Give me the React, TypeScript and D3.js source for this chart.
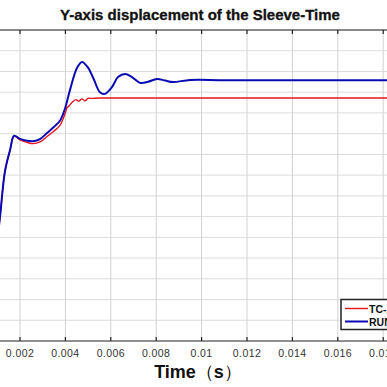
import React from "react";
import * as d3 from "d3";

const titleText = "Y-axis displacement of the Sleeve-Time";
const xLabel = "Time";
const xTicks = [0, 0.002, 0.004, 0.006, 0.008, 0.01, 0.012, 0.014, 0.016, 0.018, 0.02];
const xTickLabels = ["0", "0.002", "0.004", "0.006", "0.008", "0.01", "0.012", "0.014", "0.016", "0.018", "0.02"];
const yTicks = d3.range(0, 16, 1);

const seriesNames = ["TC-ADAMS", "RUNGE"];

const redT = [0.0009, 0.00112, 0.00134, 0.00156, 0.00174, 0.002, 0.00231, 0.00257, 0.00288, 0.00319, 0.0035, 0.00376, 0.00398, 0.00407, 0.00416, 0.00433, 0.00446, 0.00459, 0.00473, 0.00486, 0.00499, 0.00517, 0.00552, 0.0065, 0.008, 0.012, 0.016, 0.02];
const redY = [3.9, 6.0, 8.2, 9.2, 9.88, 9.7, 9.58, 9.52, 9.6, 9.86, 10.13, 10.4, 10.95, 11.25, 11.34, 11.55, 11.64, 11.57, 11.68, 11.58, 11.7, 11.7, 11.72, 11.72, 11.72, 11.72, 11.72, 11.72];

const blueT = [0.0009, 0.00112, 0.00134, 0.00156, 0.00174, 0.002, 0.00231, 0.00257, 0.00288, 0.00319, 0.0035, 0.00376, 0.00398, 0.0042, 0.00451, 0.00473, 0.00499, 0.00526, 0.00552, 0.00574, 0.00605, 0.00632, 0.00663, 0.00693, 0.00729, 0.00764, 0.00803, 0.0084, 0.00874, 0.00949, 0.011, 0.014, 0.017, 0.02];
const blueY = [3.9, 6.0, 8.2, 9.2, 9.9, 9.75, 9.66, 9.64, 9.74, 10.03, 10.33, 10.62, 11.2, 12.1, 13.17, 13.46, 13.2, 12.6, 12.0, 11.92, 12.25, 12.73, 12.88, 12.73, 12.45, 12.5, 12.64, 12.56, 12.49, 12.59, 12.58, 12.58, 12.58, 12.58];

const W = 387;
const H = 387;
const plotLeft = -25.4;
const plotRight = 428.6;
const plotTop = 30;
const plotBottom = 341;

export default function App() {
  const x = d3.scaleLinear().domain([0, 0.02]).range([plotLeft, plotRight]);
  const y = d3.scaleLinear().domain([0, 15]).range([plotBottom, plotTop]);
  const line = d3
    .line<[number, number]>()
    .x((d) => x(d[0]))
    .y((d) => y(d[1]))
    .curve(d3.curveCatmullRom.alpha(0.5));
  const redPts: [number, number][] = redT.map((t, i) => [t, redY[i]]);
  const bluePts: [number, number][] = blueT.map((t, i) => [t, blueY[i]]);
  const visibleTicks = xTicks.map((v, i) => ({ v, label: xTickLabels[i] })).filter((d) => x(d.v) > 0 && x(d.v) < W);

  return (
    <svg
      width={W}
      height={H}
      style={{ position: "absolute", left: 0, top: 0, background: "#fff" }}
      fontFamily="'Liberation Sans', Arial, sans-serif"
    >
      <rect x={0} y={0} width={W} height={H} fill="#fff" />
      <defs>
        <clipPath id="plotclip">
          <rect x={plotLeft} y={plotTop} width={plotRight - plotLeft} height={plotBottom - plotTop} />
        </clipPath>
      </defs>
      {yTicks.slice(1).map((v) => (
        <line key={"gy" + v} x1={plotLeft} x2={plotRight} y1={y(v)} y2={y(v)} stroke="#dcdcdc" strokeWidth={1} />
      ))}
      {xTicks.slice(1, -1).map((v) => (
        <line key={"gx" + v} x1={x(v)} x2={x(v)} y1={plotTop} y2={plotBottom} stroke="#d2d2d2" strokeWidth={1} />
      ))}
      <g clipPath="url(#plotclip)">
        <path d={line(redPts) || ""} fill="none" stroke="#e8141c" strokeWidth={1.4} />
        <path d={line(bluePts) || ""} fill="none" stroke="#0a0ab4" strokeWidth={2} />
      </g>
      <line x1={plotLeft} x2={plotRight} y1={plotTop} y2={plotTop} stroke="#222" strokeWidth={1.2} />
      <line x1={plotLeft} x2={plotRight} y1={plotBottom} y2={plotBottom} stroke="#222" strokeWidth={1.2} />
      {xTicks.map((v) => (
        <g key={"tx" + v}>
          <line x1={x(v)} x2={x(v)} y1={plotTop} y2={plotTop + 4} stroke="#222" strokeWidth={1.2} />
          <line x1={x(v)} x2={x(v)} y1={plotBottom} y2={plotBottom - 4} stroke="#222" strokeWidth={1.2} />
        </g>
      ))}
      {visibleTicks.map((d) => (
        <text key={"lx" + d.v} x={x(d.v)} y={357} textAnchor="middle" fontSize={10.5} fill="#333" letterSpacing={0.4}>
          {d.label}
        </text>
      ))}
      <text x={200} y={20} textAnchor="middle" fontSize={15} fontWeight="bold" fill="#111" stroke="#111" strokeWidth={0.3}>
        {titleText}
      </text>
      <text x={198} y={378} textAnchor="middle" fontSize={18} fontWeight="bold" fill="#111">
        {xLabel}
        <tspan fontWeight="normal">（</tspan>
        <tspan>s</tspan>
        <tspan fontWeight="normal">）</tspan>
      </text>
      <rect x={341} y={299.5} width={70} height={30} fill="#fff" stroke="#222" strokeWidth={1.5} />
      <line x1={345} x2={368} y1={308.5} y2={308.5} stroke="#e8141c" strokeWidth={1.4} />
      <line x1={345} x2={368} y1={321.5} y2={321.5} stroke="#0a0ab4" strokeWidth={2} />
      <text x={369} y={312.5} fontSize={10.5} fontWeight="bold" fill="#111">{seriesNames[0]}</text>
      <text x={369} y={325.5} fontSize={10.5} fontWeight="bold" fill="#111">{seriesNames[1]}</text>
    </svg>
  );
}
